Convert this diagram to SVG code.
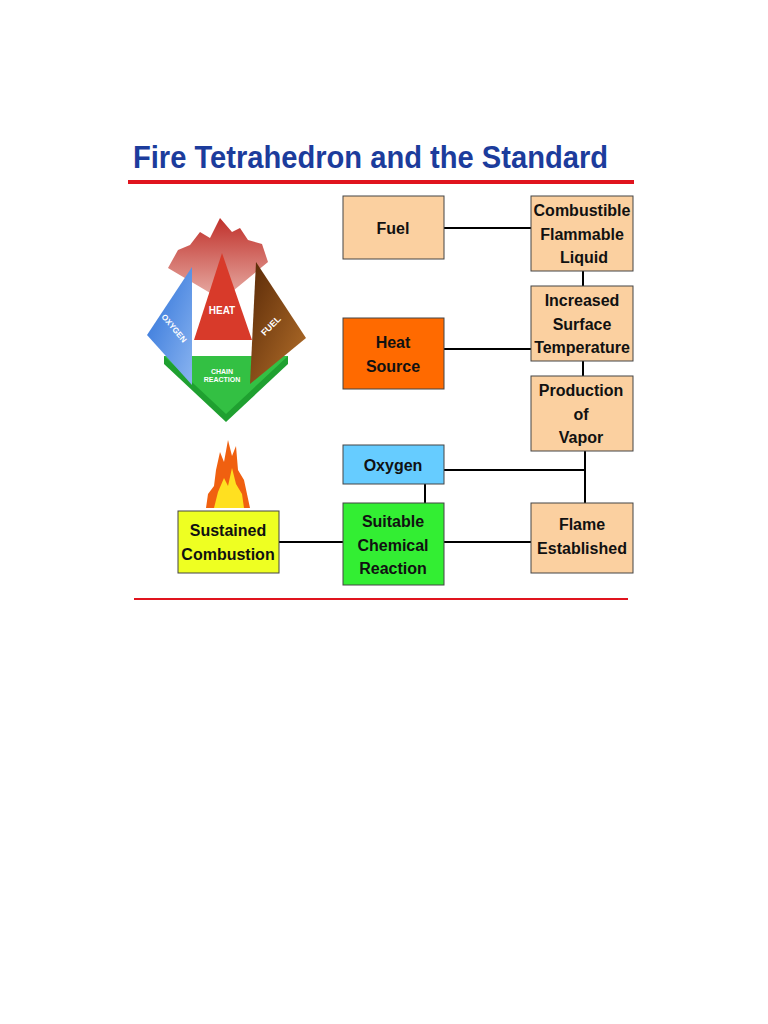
<svg xmlns="http://www.w3.org/2000/svg" width="768" height="1024" viewBox="0 0 768 1024">
<style>
.b{stroke:#444;stroke-width:1}
.t{font-family:"Liberation Sans",Arial,sans-serif;font-weight:bold;font-size:16px;fill:#111;text-anchor:middle}
.c{stroke:#000;stroke-width:2;fill:none}
.p{font-family:"Liberation Sans",Arial,sans-serif;font-weight:bold;fill:#fff;text-anchor:middle}
</style>
<defs>
<linearGradient id="fl" x1="0" y1="0" x2="0" y2="1"><stop offset="0" stop-color="#c0302a"/><stop offset="1" stop-color="#e8b0a8"/></linearGradient>
<linearGradient id="bl" x1="0" y1="0" x2="1" y2="1"><stop offset="0" stop-color="#2a6fd8"/><stop offset="1" stop-color="#8ab4f0"/></linearGradient>
<linearGradient id="br" x1="0" y1="0" x2="1" y2="1"><stop offset="0" stop-color="#5a2a08"/><stop offset="1" stop-color="#b5702a"/></linearGradient>
</defs>
<rect width="768" height="1024" fill="#fff"/>
<text x="133" y="168" font-family="Liberation Sans,Arial,sans-serif" font-weight="bold" font-size="31" fill="#1c3c9c" textLength="475" lengthAdjust="spacingAndGlyphs">Fire Tetrahedron and the Standard</text>
<line x1="128" y1="182" x2="634" y2="182" stroke="#e0141e" stroke-width="4"/>
<line x1="134" y1="599" x2="628" y2="599" stroke="#e0141e" stroke-width="2"/>
<g id="tetrahedron">
<path d="M168,268 L178,250 L190,245 L200,232 L210,238 L220,218 L232,232 L240,228 L248,240 L262,244 L268,262 L222,300 Z" fill="url(#fl)"/>
<path d="M164,356 L288,356 L288,364 L226,422 L164,364 Z" fill="#1fa030"/>
<path d="M164,356 L288,356 L226,414 L164,356 Z" fill="#33c043"/>
<path d="M222,253 L252,340 L194,340 Z" fill="#d83a2a"/>
<rect x="194" y="340" width="58" height="16" fill="#fff"/>
<path d="M192,267 L192,385 L147,335 Z" fill="url(#bl)"/>
<path d="M256,262 L306,338 L250,384 Z" fill="url(#br)"/>
<text class="p" x="222" y="314" font-size="10">HEAT</text>
<text class="p" x="222" y="374" font-size="7">CHAIN</text>
<text class="p" x="222" y="382" font-size="7">REACTION</text>
<text class="p" x="172" y="330" font-size="8" transform="rotate(50 172 330)">OXYGEN</text>
<text class="p" x="273" y="328" font-size="9" transform="rotate(-45 273 328)">FUEL</text>
</g>
<g id="flame">
<path d="M206,508 L208,494 L214,486 L216,470 L220,452 L224,462 L228,440 L232,456 L236,446 L238,470 L244,480 L250,508 Z" fill="#f06010"/>
<path d="M214,508 L218,492 L224,478 L228,486 L232,468 L236,484 L242,494 L244,508 Z" fill="#ffe020"/>
</g>
<g id="connectors">
<path class="c" d="M444,228 H531 M583,271 V286 M444,349 H531 M583,361 V376 M585,451 V503 M444,470 H585 M425,484 V503 M444,542 H531 M279,542 H343"/>
</g>
<g id="fuel"><rect class="b" x="343" y="196" width="101" height="63" fill="#fbd0a0"/><text class="t" x="393" y="234">Fuel</text></g>
<g id="combustible"><rect class="b" x="531" y="196" width="102" height="75" fill="#fbd0a0"/><text class="t" x="582" y="216">Combustible</text><text class="t" x="582" y="240">Flammable</text><text class="t" x="584" y="263">Liquid</text></g>
<g id="increased"><rect class="b" x="531" y="286" width="102" height="75" fill="#fbd0a0"/><text class="t" x="582" y="306">Increased</text><text class="t" x="582" y="330">Surface</text><text class="t" x="582" y="353">Temperature</text></g>
<g id="heat"><rect class="b" x="343" y="318" width="101" height="71" fill="#ff6a00"/><text class="t" x="393" y="348">Heat</text><text class="t" x="393" y="372">Source</text></g>
<g id="production"><rect class="b" x="531" y="376" width="102" height="75" fill="#fbd0a0"/><text class="t" x="581" y="396">Production</text><text class="t" x="581" y="420">of</text><text class="t" x="581" y="443">Vapor</text></g>
<g id="oxygen"><rect class="b" x="343" y="445" width="101" height="39" fill="#66ccff"/><text class="t" x="393" y="471">Oxygen</text></g>
<g id="suitable"><rect class="b" x="343" y="503" width="101" height="82" fill="#33ee33"/><text class="t" x="393" y="527">Suitable</text><text class="t" x="393" y="551">Chemical</text><text class="t" x="393" y="574">Reaction</text></g>
<g id="flameest"><rect class="b" x="531" y="503" width="102" height="70" fill="#fbd0a0"/><text class="t" x="582" y="530">Flame</text><text class="t" x="582" y="554">Established</text></g>
<g id="sustained"><rect class="b" x="178" y="511" width="101" height="62" fill="#eeff22"/><text class="t" x="228" y="536">Sustained</text><text class="t" x="228" y="560">Combustion</text></g>
</svg>
